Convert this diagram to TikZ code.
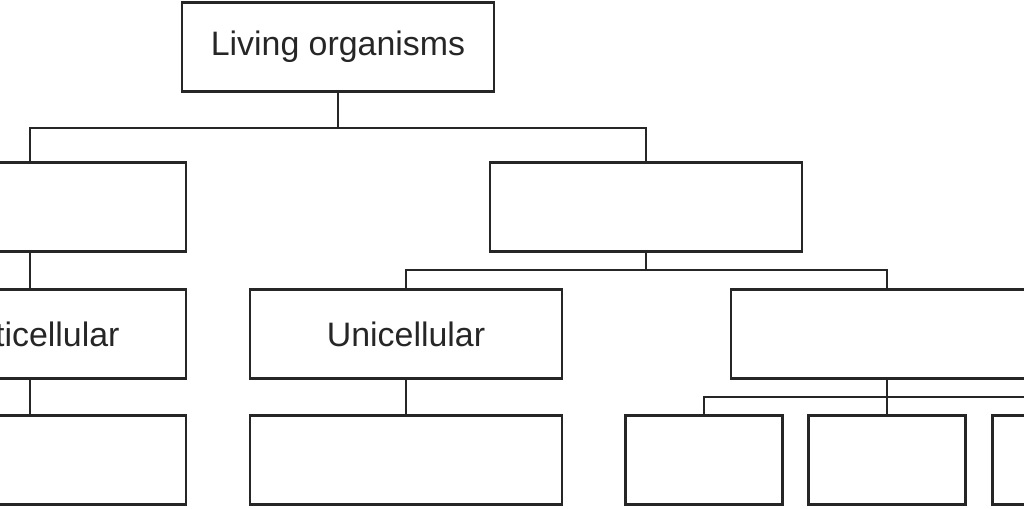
\documentclass[tikz,border=0pt]{standalone}
\usepackage{fontspec}
\setmainfont{Liberation Sans}
\tikzset{
  box/.style={draw,line width=1.3pt,color=black!85,text=black!85,minimum width=6.24cm,minimum height=1.78cm,inner sep=0pt,font=\fontsize{19.3}{22}\selectfont},
  smallbox/.style={box,minimum width=3.14cm},
  link/.style={line width=1.3pt,color=black!85}
}
\begin{document}
\begin{tikzpicture}[x=0.02cm,y=-0.02cm]
  \useasboundingbox (0,0) rectangle (1024,508);
  \clip (0,0) rectangle (1024,508);
  % level 0
  \node[box] (top) at (338,47) {Living organisms};
  % level 1
  \node[box] (multi) at (30,207) {};
  \node[box] (other) at (646,207) {};
  % level 2
  \node[box] (multicell) at (30,334) {Multicellular};
  \node[box] (unicell) at (406,334) {Unicellular};
  \node[box] (right) at (887,334) {};
  % level 3
  \node[box] (multileaf) at (30,460) {};
  \node[box] (unileaf) at (406,460) {};
  \node[smallbox] (leafa) at (704,460) {};
  \node[smallbox] (leafb) at (887,460) {};
  \node[smallbox] (leafc) at (1071,460) {};
  % connectors
  \coordinate (j0) at (338,128);
  \coordinate (j1) at (646,270);
  \coordinate (j2) at (887,397);
  \draw[link] (top.south) -- (j0);
  \draw[link] (multi.north) |- (j0) -| (other.north);
  \draw[link] (multi.south) -- (multicell.north);
  \draw[link] (multicell.south) -- (multileaf.north);
  \draw[link] (other.south) -- (j1);
  \draw[link] (unicell.north) |- (j1) -| (right.north);
  \draw[link] (unicell.south) -- (unileaf.north);
  \draw[link] (right.south) -- (leafb.north);
  \draw[link] (leafa.north) |- (j2) -| (leafc.north);
\end{tikzpicture}
\end{document}
